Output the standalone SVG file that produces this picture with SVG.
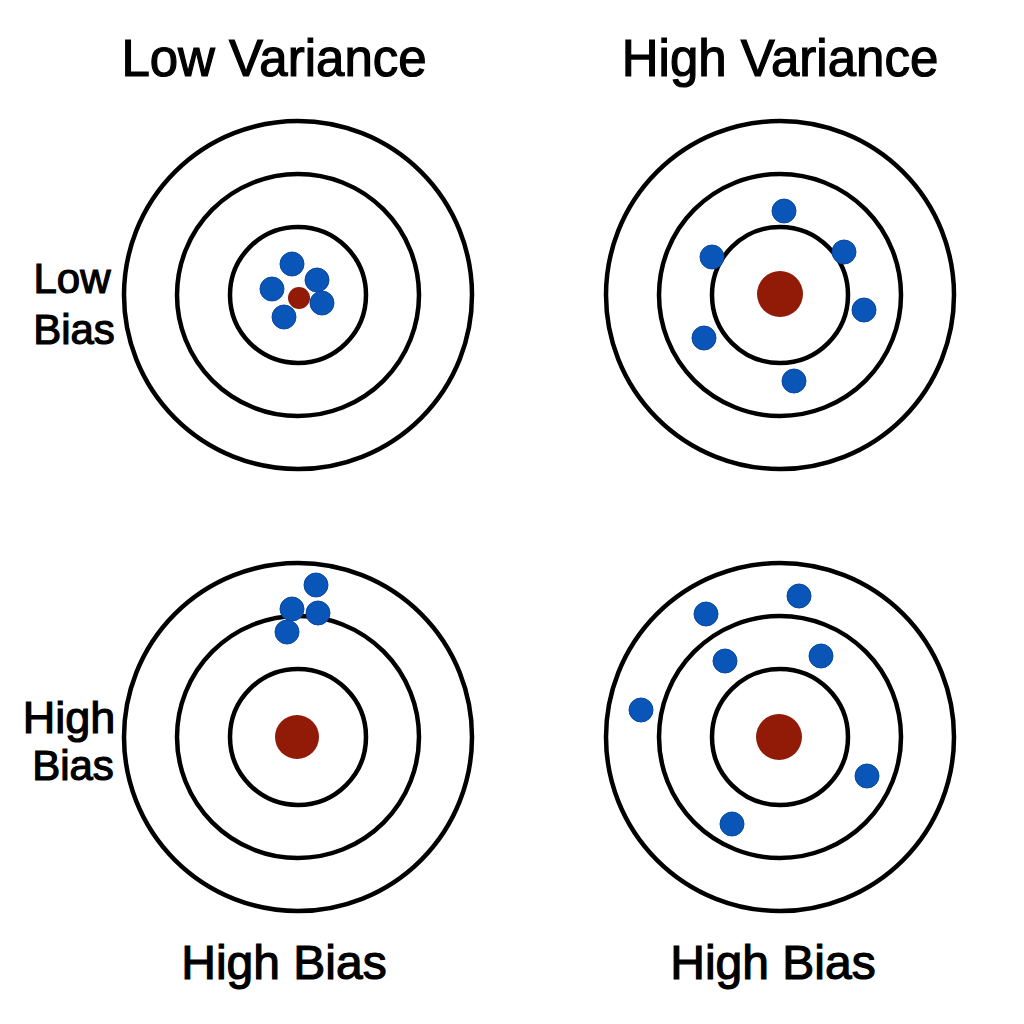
<svg xmlns="http://www.w3.org/2000/svg" width="1024" height="1024" viewBox="0 0 1024 1024">
<style>
.ring{fill:none;stroke:#000;stroke-width:4.5}
.blue{fill:#0a56b8;stroke:#0847a0;stroke-width:1}
.red{fill:#911b07}
.t{font-family:"Liberation Sans",Arial,sans-serif;fill:#000;stroke:#000;stroke-width:1.2;text-anchor:middle}
</style>
<rect width="1024" height="1024" fill="#fff"/>
<g id="labels">
<text class="t" x="274" y="76" font-size="51">Low Variance</text>
<text class="t" x="780" y="76" font-size="51">High Variance</text>
<text class="t" x="284" y="979" font-size="48">High Bias</text>
<text class="t" x="773" y="979" font-size="48">High Bias</text>
<text class="t" x="72" y="293" font-size="42">Low</text>
<text class="t" x="74" y="344" font-size="42">Bias</text>
<text class="t" x="69" y="733" font-size="45">High</text>
<text class="t" x="73" y="780" font-size="42">Bias</text>
</g>
<g id="target-low-var-low-bias">
<circle class="ring" cx="298" cy="295" r="174"/>
<circle class="ring" cx="298" cy="295" r="121"/>
<circle class="ring" cx="298" cy="295" r="68"/>
<circle class="red" cx="299" cy="298" r="11"/>
<circle class="blue" cx="292" cy="264" r="12"/>
<circle class="blue" cx="272" cy="289" r="12"/>
<circle class="blue" cx="317" cy="280" r="12"/>
<circle class="blue" cx="322" cy="303" r="12"/>
<circle class="blue" cx="284" cy="317" r="12"/>
</g>
<g id="target-high-var-low-bias">
<circle class="ring" cx="780" cy="295" r="174"/>
<circle class="ring" cx="780" cy="295" r="121"/>
<circle class="ring" cx="780" cy="295" r="68"/>
<circle class="red" cx="780" cy="294" r="23"/>
<circle class="blue" cx="784" cy="211" r="12"/>
<circle class="blue" cx="844" cy="252" r="12"/>
<circle class="blue" cx="712" cy="257" r="12"/>
<circle class="blue" cx="864" cy="310" r="12"/>
<circle class="blue" cx="704" cy="338" r="12"/>
<circle class="blue" cx="794" cy="381" r="12"/>
</g>
<g id="target-low-var-high-bias">
<circle class="ring" cx="298" cy="737" r="174"/>
<circle class="ring" cx="298" cy="737" r="121"/>
<circle class="ring" cx="298" cy="737" r="68"/>
<circle class="red" cx="297" cy="737" r="22"/>
<circle class="blue" cx="316" cy="585" r="12"/>
<circle class="blue" cx="292" cy="609" r="12"/>
<circle class="blue" cx="318" cy="613" r="12"/>
<circle class="blue" cx="287" cy="632" r="12"/>
</g>
<g id="target-high-var-high-bias">
<circle class="ring" cx="780" cy="737" r="174"/>
<circle class="ring" cx="780" cy="737" r="121"/>
<circle class="ring" cx="780" cy="737" r="68"/>
<circle class="red" cx="779" cy="737" r="23"/>
<circle class="blue" cx="706" cy="614" r="12"/>
<circle class="blue" cx="799" cy="596" r="12"/>
<circle class="blue" cx="725" cy="661" r="12"/>
<circle class="blue" cx="821" cy="656" r="12"/>
<circle class="blue" cx="641" cy="710" r="12"/>
<circle class="blue" cx="867" cy="776" r="12"/>
<circle class="blue" cx="732" cy="824" r="12"/>
</g>
<g id="connectors"/>
</svg>
